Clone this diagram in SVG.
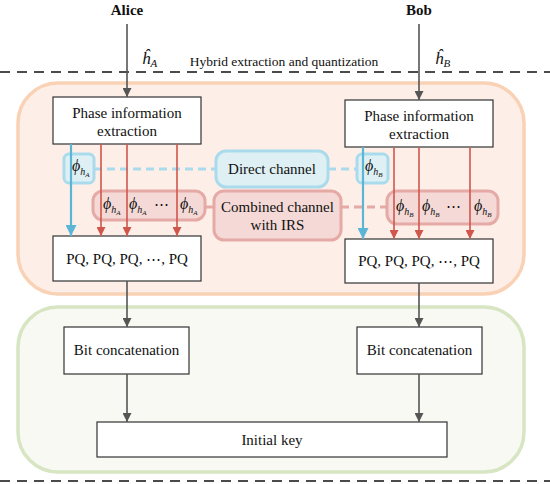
<svg xmlns="http://www.w3.org/2000/svg" width="550" height="484" viewBox="0 0 550 484" font-family="'Liberation Serif','Times New Roman',serif">
<defs>
<style>
text{font-family:"Liberation Serif","Times New Roman",serif;fill:#111;}
.t{font-size:15px;text-anchor:middle;}
.box{fill:#fff;stroke:#333;stroke-width:1.2;}
.g{stroke:#555;stroke-width:1.6;fill:none;}
.b{stroke:#5bb6d6;stroke-width:2.2;fill:none;}
.r{stroke:#d0564c;stroke-width:1.6;fill:none;}
.dash{stroke:#111;stroke-width:1.4;stroke-dasharray:10 7;fill:none;}
.bd{stroke:#a9dbec;stroke-width:3;stroke-dasharray:8 5;fill:none;}
.rd{stroke:#e6aaa6;stroke-width:3;stroke-dasharray:8 5;fill:none;}
.bbox{fill:#def0f4;stroke:#a9dbec;stroke-width:3;}
.rbox{fill:#f4d9d6;stroke:#e6aaa6;stroke-width:3;}
.phi{font-style:italic;font-size:16px;}
.s1{font-size:10px;}
.s2{font-size:7px;}
</style>
<marker id="ag" viewBox="0 0 10 10" refX="10" refY="5" markerWidth="9" markerHeight="9" markerUnits="userSpaceOnUse" orient="auto"><path d="M0,0 L10,5 L0,10 z" fill="#555"/></marker>
<marker id="ab" viewBox="0 0 10 10" refX="10" refY="5" markerWidth="11" markerHeight="11" markerUnits="userSpaceOnUse" orient="auto"><path d="M0,0 L10,5 L0,10 z" fill="#5bb6d6"/></marker>
<marker id="ar" viewBox="0 0 10 10" refX="10" refY="5" markerWidth="9" markerHeight="9" markerUnits="userSpaceOnUse" orient="auto"><path d="M0,0 L10,5 L0,10 z" fill="#d0564c"/></marker>
</defs>

<g id="regions">
<rect x="18" y="83" width="506" height="211" rx="40" fill="#fdefe8" stroke="#f9d2b6" stroke-width="3.5"/>
<rect x="18" y="307" width="506" height="165" rx="40" fill="#f8f9f3" stroke="#d7e5c3" stroke-width="3.5"/>
</g>

<g id="labels">
<text x="127" y="15" class="t" font-weight="bold">Alice</text>
<text x="419" y="15" class="t" font-weight="bold">Bob</text>
<text x="142" y="64" font-size="17" font-style="italic">ĥ<tspan font-size="11" dy="3">A</tspan></text>
<text x="435" y="64" font-size="17" font-style="italic">ĥ<tspan font-size="11" dy="3">B</tspan></text>
<text x="284" y="66" font-size="13.5" text-anchor="middle">Hybrid extraction and quantization</text>
</g>

<g id="dividers">
<line x1="0" y1="72" x2="550" y2="72" class="dash"/>
<line x1="0" y1="481" x2="550" y2="481" class="dash"/>
</g>

<g id="channel-links">
<line x1="94" y1="169" x2="216" y2="169" class="bd"/>
<line x1="328" y1="169" x2="357" y2="169" class="bd"/>
<line x1="205" y1="207" x2="214" y2="207" class="rd"/>
<line x1="341" y1="207" x2="387" y2="207" class="rd"/>
</g>

<g id="direct-channel">
<rect x="216" y="151" width="112" height="36" rx="10" class="bbox"/>
<text x="272" y="174" class="t">Direct channel</text>
</g>
<g id="combined-channel">
<rect x="214" y="191" width="127" height="49" rx="10" class="rbox"/>
<text x="277.5" y="212" class="t">Combined channel</text>
<text x="277.5" y="230" class="t">with IRS</text>
</g>

<g id="phi-direct-A"><rect x="64" y="154" width="30" height="29" rx="5" class="bbox"/></g>
<g id="phi-direct-B"><rect x="357" y="154" width="31" height="29" rx="5" class="bbox"/></g>
<g id="phi-irs-A"><rect x="93" y="191" width="112" height="29" rx="10" class="rbox"/></g>
<g id="phi-irs-B"><rect x="387" y="191" width="111" height="33" rx="10" class="rbox"/></g>

<g id="phase-A">
<rect x="53" y="97" width="148" height="47" class="box"/>
<text x="127" y="118" class="t">Phase information</text>
<text x="127" y="136" class="t">extraction</text>
</g>
<g id="phase-B">
<rect x="345" y="100" width="148" height="47" class="box"/>
<text x="419" y="121" class="t">Phase information</text>
<text x="419" y="139" class="t">extraction</text>
</g>
<g id="pq-A">
<rect x="53" y="236" width="148" height="45" class="box"/>
<text x="127" y="264" class="t">PQ, PQ, PQ, ⋯, PQ</text>
</g>
<g id="pq-B">
<rect x="345" y="239" width="148" height="44" class="box"/>
<text x="419" y="266" class="t">PQ, PQ, PQ, ⋯, PQ</text>
</g>
<g id="bit-A">
<rect x="64" y="327" width="125" height="47" class="box"/>
<text x="126.5" y="355" class="t">Bit concatenation</text>
</g>
<g id="bit-B">
<rect x="357" y="327" width="125" height="47" class="box"/>
<text x="419.5" y="355" class="t">Bit concatenation</text>
</g>
<g id="initial-key">
<rect x="97" y="422" width="350" height="35" class="box"/>
<text x="272" y="445" class="t">Initial key</text>
</g>

<g id="connectors">
<line x1="127" y1="24" x2="127" y2="97" class="g" marker-end="url(#ag)"/>
<line x1="419" y1="24" x2="419" y2="100" class="g" marker-end="url(#ag)"/>
<line x1="71" y1="144" x2="71" y2="236" class="b" marker-end="url(#ab)"/>
<line x1="101" y1="144" x2="101" y2="236" class="r" marker-end="url(#ar)"/>
<line x1="127" y1="144" x2="127" y2="236" class="r" marker-end="url(#ar)"/>
<line x1="177" y1="144" x2="177" y2="236" class="r" marker-end="url(#ar)"/>
<line x1="363" y1="147" x2="363" y2="239" class="b" marker-end="url(#ab)"/>
<line x1="394" y1="147" x2="394" y2="239" class="r" marker-end="url(#ar)"/>
<line x1="419" y1="147" x2="419" y2="239" class="r" marker-end="url(#ar)"/>
<line x1="470" y1="147" x2="470" y2="239" class="r" marker-end="url(#ar)"/>
<line x1="127" y1="281" x2="127" y2="327" class="g" marker-end="url(#ag)"/>
<line x1="419" y1="283" x2="419" y2="327" class="g" marker-end="url(#ag)"/>
<line x1="127" y1="374" x2="127" y2="422" class="g" marker-end="url(#ag)"/>
<line x1="419" y1="374" x2="419" y2="422" class="g" marker-end="url(#ag)"/>
</g>

<g id="phi-labels">
<text x="72" y="171" class="phi">ϕ<tspan class="s1" dy="4">h</tspan><tspan class="s2" dy="2">A</tspan></text>
<text x="365" y="171" class="phi">ϕ<tspan class="s1" dy="4">h</tspan><tspan class="s2" dy="2">B</tspan></text>
<text x="103" y="209" class="phi">ϕ<tspan class="s1" dy="4">h</tspan><tspan class="s2" dy="2">A</tspan></text>
<text x="129" y="209" class="phi">ϕ<tspan class="s1" dy="4">h</tspan><tspan class="s2" dy="2">A</tspan></text>
<text x="161" y="209" font-size="15" text-anchor="middle">⋯</text>
<text x="180" y="209" class="phi">ϕ<tspan class="s1" dy="4">h</tspan><tspan class="s2" dy="2">A</tspan></text>
<text x="396" y="211" class="phi">ϕ<tspan class="s1" dy="4">h</tspan><tspan class="s2" dy="2">B</tspan></text>
<text x="422" y="211" class="phi">ϕ<tspan class="s1" dy="4">h</tspan><tspan class="s2" dy="2">B</tspan></text>
<text x="453" y="211" font-size="15" text-anchor="middle">⋯</text>
<text x="474" y="211" class="phi">ϕ<tspan class="s1" dy="4">h</tspan><tspan class="s2" dy="2">B</tspan></text>
</g>
</svg>
